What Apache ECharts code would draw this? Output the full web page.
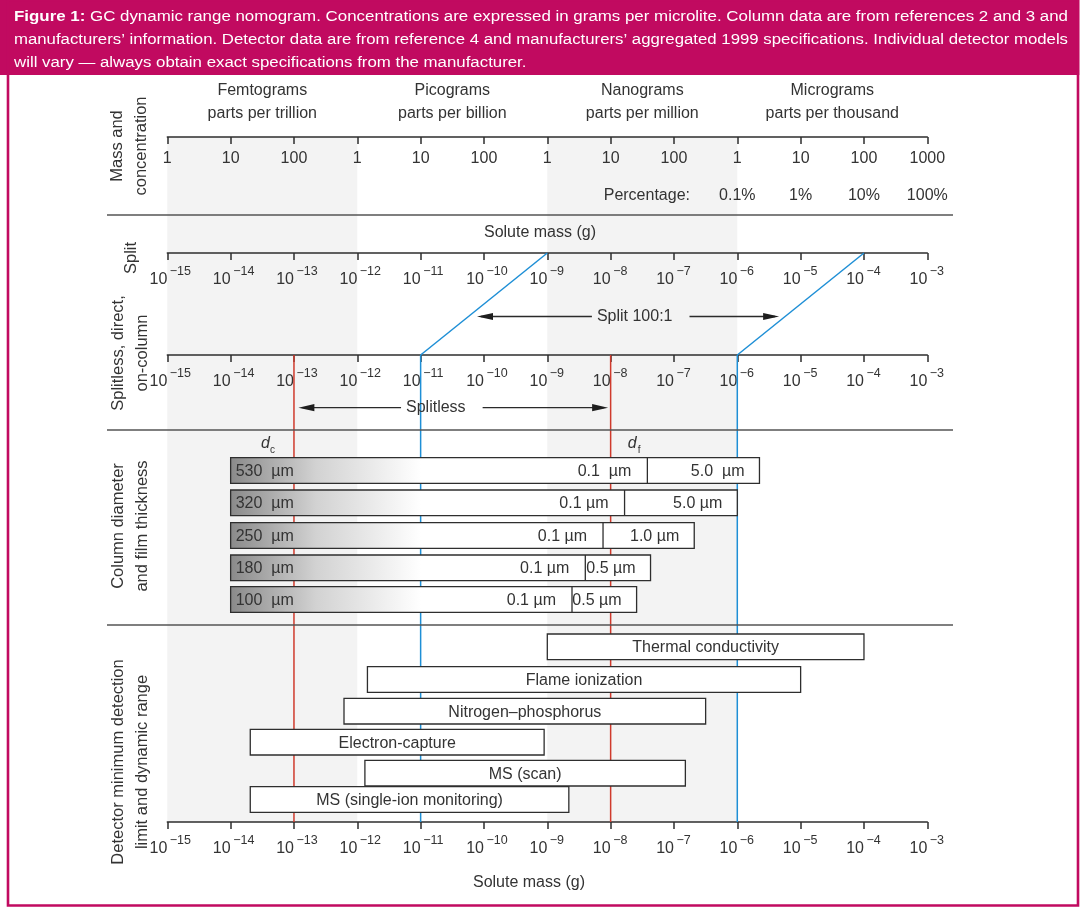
<!DOCTYPE html>
<html><head><meta charset="utf-8">
<script src="https://cdn.jsdelivr.net/npm/echarts@6/dist/echarts.min.js"></script>
<style>html,body{margin:0;padding:0;background:#fff}#c{width:1087px;height:914px}</style>
</head><body><div id="c"></div>
<script>
// ---------------- DATA ----------------
const concTickLabels = ['1','10','100','1','10','100','1','10','100','1','10','100','1000'];
const unitGroups = ['Femtograms','Picograms','Nanograms','Micrograms'];
const unitConcs = ['parts per trillion','parts per billion','parts per million','parts per thousand'];
const unitCenters = [-13.5,-10.5,-7.5,-4.5];
const percentLabels = ['0.1%','1%','10%','100%'];
const percentAt = [-6,-5,-4,-3];
const shadedBands = [[-15,-12],[-9,-6]];
const splitLinks = [[-11,-9],[-6,-4]];          // splitless mass -> split mass (100:1)
const redRefs = [-13,-8];
const blueRefs = [-11,-6];
const arrowLabels = ['Split 100:1','Splitless'];
const arrowFrom = [-10.11,-12.93];
const arrowTo = [-5.34,-8.04];
const arrowLabelAt = [-7.62,-10.76];
const filmSymbols = ['c','f'];
const filmSymbolAt = [-13.45,-7.66];
const columnDiam = ['530  µm','320  µm','250  µm','180  µm','100  µm'];
const columnStart = [-14,-14,-14,-14,-14];
const thinFilmEnd = [-7.42,-7.78,-8.12,-8.40,-8.61];
const thickFilmEnd = [-5.65,-6.0,-6.68,-7.37,-7.59];
const thinFilmLabel = ['0.1  µm','0.1 µm','0.1 µm','0.1 µm','0.1 µm'];
const thickFilmLabel = ['5.0  µm','5.0 µm','1.0 µm','0.5 µm','0.5 µm'];
const detectors = ['Thermal conductivity','Flame ionization','Nitrogen\u2013phosphorus','Electron-capture','MS (scan)','MS (single-ion monitoring)'];
const detectorMin = [-9.0,-11.84,-12.21,-13.69,-11.88,-13.69];
const detectorMax = [-4.0,-5.0,-6.5,-9.05,-6.82,-8.66];

// ---------------- LAYOUT / STYLE ----------------
const W = 1087, H = 914;
const FONT = "'Liberation Sans', Arial, Helvetica, sans-serif";
const INK = '#2e2e2e', TXT = '#333333', MAG = '#c10a60';
const BLUE = '#1e8fd6', RED = '#cf3a2c', SHADE = '#f3f3f3';
const GL = 167.3, GR = W - 927.3;
const Y_CONC = 137, Y_SPLIT = 253, Y_SPLITLESS = 355, Y_BOTTOM = 822;
const ARROW_Y = [316.5, 407.7];
const COL_TOP = [457.7, 490, 522.7, 555, 586.7], COL_H = 25.7;
const DET_TOP = [634, 666.7, 698.3, 729.3, 760.3, 786.7], DET_H = 25.7;
const GRAD_END = -11.0;

const mctx = document.createElement('canvas').getContext('2d');
function tw(text, font){ mctx.font = font; return mctx.measureText(text).width; }
const F16 = '16px ' + FONT;

function xAxisDef(gi, kind){
  const base = {
    type:'value', gridIndex:gi, min:-15, max:-3, interval:1, position:'bottom', offset:0, z:2,
    axisLine:{show:true, onZero:false, lineStyle:{color:INK, width:1.5}},
    axisTick:{show:true, length:7, lineStyle:{color:INK, width:1.5}},
    splitLine:{show:false}
  };
  if (kind === 'conc') {
    base.axisLabel = {show:true, margin:12, color:TXT, fontFamily:FONT, fontSize:16, lineHeight:20,
      showMinLabel:true, showMaxLabel:true, formatter: v => concTickLabels[Math.round(v) + 15]};
  } else if (kind === 'base') {   // the "10" of 10^n, right edge on the tick
    base.axisLabel = {show:true, margin:19, align:'right', color:TXT, fontFamily:FONT, fontSize:16, lineHeight:16,
      showMinLabel:true, showMaxLabel:true, formatter: () => '10'};
  } else {                        // the exponent, superscript to the right of the tick
    base.axisLine = {show:false}; base.axisTick = {show:false};
    base.axisLabel = {show:true, margin:13, align:'left', color:TXT, fontFamily:FONT, fontSize:12.5, lineHeight:12,
      showMinLabel:true, showMaxLabel:true, formatter: v => '\u2009\u2212' + Math.abs(Math.round(v))};
  }
  return base;
}
const X = (api, v) => api.coord([v, 0])[0];
const txt = (text, x, y, align, extra) => ({type:'text', style:Object.assign({text, x, y, align:align||'center', verticalAlign:'middle', font:F16, fill:TXT}, extra||{})});

const series = [
  { // shaded decades
    type:'custom', xAxisIndex:0, yAxisIndex:0, z:1, silent:true,
    data: shadedBands,
    renderItem:(p, api) => {
      const x0 = X(api, api.value(0)), x1 = X(api, api.value(1));
      return {type:'rect', shape:{x:x0, y:Y_CONC, width:x1-x0, height:Y_BOTTOM-Y_CONC}, style:{fill:SHADE}};
    }
  },
  { // red & blue reference verticals
    type:'custom', xAxisIndex:0, yAxisIndex:0, z:3, silent:true,
    data: redRefs.map(v=>[v,0]).concat(blueRefs.map(v=>[v,1])),
    renderItem:(p, api) => {
      const x = X(api, api.value(0));
      return {type:'line', shape:{x1:x, y1:Y_SPLITLESS, x2:x, y2:Y_BOTTOM}, style:{stroke: api.value(1) ? BLUE : RED, lineWidth:1.5}};
    }
  },
  { // split 100:1 links
    type:'custom', xAxisIndex:0, yAxisIndex:0, z:3, silent:true,
    data: splitLinks,
    renderItem:(p, api) => ({type:'line', shape:{x1:X(api, api.value(0)), y1:Y_SPLITLESS, x2:X(api, api.value(1)), y2:Y_SPLIT}, style:{stroke:BLUE, lineWidth:1.5}})
  },
  { // arrows
    type:'custom', xAxisIndex:0, yAxisIndex:0, z:4, silent:true,
    data: arrowFrom.map((v,i)=>[v, arrowTo[i]]),
    renderItem:(p, api) => {
      const i = p.dataIndex, y = ARROW_Y[i];
      const xa = X(api, api.value(0)), xb = X(api, api.value(1)), xc = X(api, arrowLabelAt[i]);
      const w = tw(arrowLabels[i], F16);
      const gl = xc - w/2 - 5, gr = xc + w/2 + 17;
      const head = (tip, dir) => ({type:'polygon', shape:{points:[[tip,y],[tip-dir*16,y-3.6],[tip-dir*16,y+3.6]]}, style:{fill:'#1e1e1e'}});
      return {type:'group', children:[
        {type:'line', shape:{x1:xa+4, y1:y, x2:gl, y2:y}, style:{stroke:'#2a2a2a', lineWidth:1.3}},
        {type:'line', shape:{x1:gr, y1:y, x2:xb-4, y2:y}, style:{stroke:'#2a2a2a', lineWidth:1.3}},
        head(xa,-1), head(xb,1),
        txt(arrowLabels[i], xc, y)
      ]};
    }
  },
  { // film symbols d_c, d_f
    type:'custom', xAxisIndex:0, yAxisIndex:0, z:4, silent:true,
    data: filmSymbolAt.map(v=>[v,0]),
    renderItem:(p, api) => {
      const x = X(api, api.value(0));
      return {type:'group', children:[
        txt('d', x, 444, 'center', {font:'italic 16px ' + FONT}),
        txt(filmSymbols[p.dataIndex], x+7, 450, 'center', {font:'10px ' + FONT})
      ]};
    }
  },
  { // column bars
    type:'custom', xAxisIndex:0, yAxisIndex:0, z:5, silent:true,
    data: columnStart.map((v,i)=>[v, thinFilmEnd[i], thickFilmEnd[i]]),
    renderItem:(p, api) => {
      const i = p.dataIndex;
      const x0 = X(api, api.value(0)), xm = X(api, api.value(1)), x1 = X(api, api.value(2));
      const xf = X(api, GRAD_END);
      const top = COL_TOP[i], cy = top + COL_H/2;
      return {type:'group', children:[
        {type:'rect', shape:{x:x0, y:top, width:x1-x0, height:COL_H},
          style:{fill:{type:'linear', x:x0, y:0, x2:xf, y2:0, global:true,
            colorStops:[{offset:0,color:'#8a8a8a'},{offset:0.45,color:'#d2d2d2'},{offset:1,color:'#ffffff'}]},
            stroke:INK, lineWidth:1.3}},
        {type:'line', shape:{x1:xm, y1:top, x2:xm, y2:top+COL_H}, style:{stroke:INK, lineWidth:1.3}},
        txt(columnDiam[i], x0+5, cy+1, 'left'),
        txt(thinFilmLabel[i], xm-16, cy+1, 'right'),
        txt(thickFilmLabel[i], x1-15, cy+1, 'right')
      ]};
    }
  },
  { // detector ranges
    type:'custom', xAxisIndex:0, yAxisIndex:0, z:5, silent:true,
    data: detectorMin.map((v,i)=>[v, detectorMax[i]]),
    renderItem:(p, api) => {
      const i = p.dataIndex;
      const x0 = X(api, api.value(0)), x1 = X(api, api.value(1));
      const top = DET_TOP[i];
      return {type:'group', children:[
        {type:'rect', shape:{x:x0, y:top, width:x1-x0, height:DET_H}, style:{fill:'#fff', stroke:INK, lineWidth:1.3}},
        txt(detectors[i], (x0+x1)/2, top + DET_H/2 + 1)
      ]};
    }
  },
  { // unit group headings
    type:'custom', xAxisIndex:0, yAxisIndex:0, z:4, silent:true,
    data: unitCenters.map(v=>[v,0]),
    renderItem:(p, api) => {
      const x = X(api, api.value(0));
      return {type:'group', children:[
        txt(unitGroups[p.dataIndex], x, 91),
        txt(unitConcs[p.dataIndex], x, 114)
      ]};
    }
  },
  { // percentages
    type:'custom', xAxisIndex:0, yAxisIndex:0, z:4, silent:true,
    data: percentAt.map(v=>[v,0]),
    renderItem:(p, api) => txt(percentLabels[p.dataIndex], X(api, api.value(0)), 196)
  }
];

// header text scaled to match the reference line width
const HF = '15.5px ' + FONT, HFB = 'bold 15.5px ' + FONT;
const h1b = 'Figure 1:', h1 = ' GC dynamic range nomogram. Concentrations are expressed in grams per microlite. Column data are from references 2 and 3 and';
const h2 = 'manufacturers\u2019 information. Detector data are from reference 4 and manufacturers\u2019 aggregated 1999 specifications. Individual detector models';
const h3 = 'will vary \u2014 always obtain exact specifications from the manufacturer.';
const s1 = (1068 - 14) / (tw(h1b, HFB) + tw(h1, HF));
const s2 = (1068 - 14) / tw(h2, HF);
const sH = (s1 + s2) / 2;
const headText = (text, y, scale) => ({type:'text', x:14, y, scaleX:scale, z:10,
  style:{text, x:0, y:0, verticalAlign:'middle', align:'left', font:HF, fill:'#fff',
    rich:{b:{font:HFB, fill:'#fff'}}}});
const sideLabel = (text, x, y) => ({type:'text', x, y, rotation:Math.PI/2, z:10,
  style:{text, x:0, y:0, align:'center', verticalAlign:'middle', font:'16.5px ' + FONT, fill:TXT, lineHeight:24}});
const sep = y => ({type:'line', z:10, shape:{x1:107, y1:y, x2:953, y2:y}, style:{stroke:'#555', lineWidth:1.5}});

const graphic = [
  {type:'rect', z:9, shape:{x:0, y:0, width:1079.3, height:75}, style:{fill:MAG}},
  {type:'rect', z:9, shape:{x:8, y:0, width:1070, height:905.5}, style:{fill:null, stroke:MAG, lineWidth:2.6}},
  headText('{b|' + h1b + '}' + h1, 17, s1),
  headText(h2, 40, s2),
  headText(h3, 62.5, sH),
  sep(215), sep(430), sep(625),
  sideLabel('Mass and\nconcentration', 129.5, 146),
  sideLabel('Split', 131.5, 258),
  sideLabel('Splitless, direct,\non-column', 130, 353),
  sideLabel('Column diameter\nand film thickness', 130, 526),
  sideLabel('Detector minimum detection\nlimit and dynamic range', 130, 762),
  {type:'text', z:10, style:{text:'Solute mass (g)', x:540, y:233, align:'center', verticalAlign:'middle', font:F16, fill:TXT}},
  {type:'text', z:10, style:{text:'Solute mass (g)', x:529, y:883, align:'center', verticalAlign:'middle', font:F16, fill:TXT}},
  {type:'text', z:10, style:{text:'Percentage:', x:690, y:196, align:'right', verticalAlign:'middle', font:F16, fill:TXT}}
];

const chart = echarts.init(document.getElementById('c'), null, {renderer:'canvas', width:W, height:H});
chart.setOption({
  animation:false,
  backgroundColor:'#fff',
  grid:[
    {left:GL, right:GR, top:Y_CONC, height:Y_BOTTOM-Y_CONC},
    {left:GL, right:GR, top:Y_CONC-1, height:1},
    {left:GL, right:GR, top:Y_SPLIT-1, height:1},
    {left:GL, right:GR, top:Y_SPLITLESS-1, height:1}
  ],
  xAxis:[
    xAxisDef(0,'base'), xAxisDef(0,'exp'),
    xAxisDef(1,'conc'),
    xAxisDef(2,'base'), xAxisDef(2,'exp'),
    xAxisDef(3,'base'), xAxisDef(3,'exp')
  ],
  yAxis:[0,1,2,3].map(i=>({type:'value', gridIndex:i, min:0, max:1, show:false})),
  series: series,
  graphic: graphic
});
</script></body></html>
